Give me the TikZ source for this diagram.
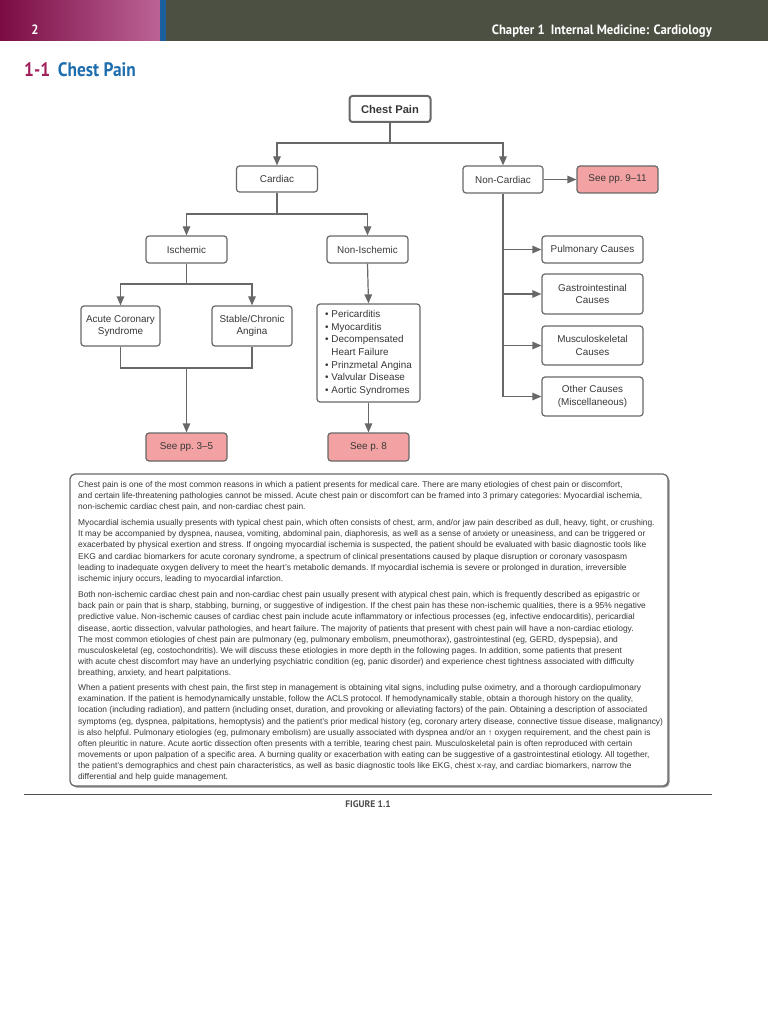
\documentclass[tikz,border=0pt]{standalone}
\usepackage{fontspec}
\usetikzlibrary{arrows.meta}
\newfontfamily\nodefont{Liberation Sans}
\newfontfamily\headfont[FakeStretch=0.94]{PT Sans}
\newfontfamily\titlefont[FakeStretch=0.89]{PT Sans}
\newfontfamily\capfont{PT Sans}
\definecolor{linegray}{HTML}{686868}
\definecolor{txtgray}{HTML}{383838}
\definecolor{pinkfill}{HTML}{F2A2A2}
\definecolor{magL}{HTML}{7A0C43}
\definecolor{magR}{HTML}{BC6396}
\definecolor{stripe}{HTML}{1C5F9C}
\definecolor{barcol}{HTML}{4C5042}
\definecolor{titlemag}{HTML}{A01E5A}
\definecolor{titleblue}{HTML}{1E6DAE}
\tikzset{
  box/.style={draw=linegray, line width=1.2pt, rounded corners=3pt, fill=white,
    inner sep=0pt, align=center, text=txtgray,
    font=\nodefont\fontsize{9.9}{12.5}\selectfont\frenchspacing},
  pinkbox/.style={box, fill=pinkfill},
  conn/.style={draw=linegray, line width=1.2pt},
  arr/.style={conn, -{Triangle[length=9pt,width=7.5pt]}},
  para/.style={anchor=north west, inner sep=0pt, align=left, text=txtgray,
    font=\nodefont\fontsize{8.4}{11.13}\selectfont\frenchspacing}
}
\begin{document}
\begin{tikzpicture}[x=1pt,y=-1pt]
\useasboundingbox (0,0) rectangle (768,1024);
% header bar
\fill[left color=magL, right color=magR] (0,0) rectangle (160,41);
\fill[stripe] (160,0) rectangle (166,41);
\fill[barcol] (166,0) rectangle (768,41);
\node[anchor=base, inner sep=0pt, text=white, font=\headfont\bfseries\fontsize{13.5}{15}\selectfont] (pgnum) at (35,35) {2};
\node[anchor=base east, inner sep=0pt, text=white, font=\headfont\bfseries\fontsize{13.5}{15}\selectfont] (chap) at (712,35) {Chapter 1\hspace{0.45em}Internal Medicine: Cardiology};
% title
\node[anchor=base west, inner sep=0pt, font=\titlefont\bfseries\fontsize{19.5}{22}\selectfont] (title) at (24,77) {\textcolor{titlemag}{1-1}\hspace{0.4em}\textcolor{titleblue}{Chest Pain}};

% flowchart nodes
\node[box, line width=2pt, minimum width=81pt, minimum height=26pt, font=\nodefont\bfseries\fontsize{11.2}{13}\selectfont] (chest) at (390,109) {Chest Pain};
\node[box, minimum width=81pt, minimum height=26pt] (cardiac) at (277,179) {Cardiac};
\node[box, minimum width=80pt, minimum height=27pt] (noncard) at (503,179.5) {Non-Cardiac};
\node[pinkbox, minimum width=81pt, minimum height=27pt] (see911) at (617.5,179.5) {See pp. 9–11};
\node[box, minimum width=81pt, minimum height=27pt] (isch) at (186.5,249.5) {Ischemic};
\node[box, minimum width=81pt, minimum height=27pt] (nonisch) at (367.5,249.5) {Non-Ischemic};
\node[box, minimum width=79pt, minimum height=40pt] (acs) at (120.5,326) {Acute Coronary\\Syndrome};
\node[box, minimum width=80pt, minimum height=40pt] (stable) at (252,326) {Stable/Chronic\\Angina};
\node[box, align=left, minimum width=103pt, minimum height=98pt, font=\nodefont\fontsize{9.9}{12.6}\selectfont] (list) at (368.5,353)
  {• Pericarditis\\• Myocarditis\\• Decompensated\\\phantom{• }Heart Failure\\• Prinzmetal Angina\\• Valvular Disease\\• Aortic Syndromes};
\node[pinkbox, minimum width=81pt, minimum height=28pt] (see35) at (186.5,447) {See pp. 3–5};
\node[pinkbox, minimum width=81pt, minimum height=28pt] (see8) at (368.5,447) {See p. 8};
\node[box, minimum width=101pt, minimum height=27pt] (pulm) at (592.5,249.5) {Pulmonary Causes};
\node[box, minimum width=101pt, minimum height=40pt] (gi) at (592.5,294) {Gastrointestinal\\Causes};
\node[box, minimum width=101pt, minimum height=39pt] (msk) at (592.5,345.5) {Musculoskeletal\\Causes};
\node[box, minimum width=101pt, minimum height=39pt] (other) at (592.5,396.5) {Other Causes\\(Miscellaneous)};

% junctions
\coordinate (j1) at (390,143);
\coordinate (j2) at (277,214);
\coordinate (j3) at (186.5,284);
\coordinate (j4) at (186.5,368);

% connectors
\draw[conn] (chest.south) -- (j1);
\draw[arr] (j1) -| (cardiac.north);
\draw[arr] (j1) -| (noncard.north);
\draw[conn] (cardiac.south) -- (j2);
\draw[arr] (j2) -| (isch.north);
\draw[arr] (j2) -| (nonisch.north);
\draw[conn] (isch.south) -- (j3);
\draw[arr] (j3) -| (acs.north);
\draw[arr] (j3) -| (stable.north);
\draw[conn] (acs.south) |- (j4) -| (stable.south);
\draw[arr] (j4) -- (see35.north);
\draw[arr] (nonisch.south) -- (list.north);
\draw[arr] (list.south) -- (see8.north);
\draw[arr] (noncard.east) -- (see911.west);
\draw[conn] (noncard.south) -- (noncard.south |- other.west);
\draw[arr] (noncard.south |- pulm.west) -- (pulm.west);
\draw[arr] (noncard.south |- gi.west) -- (gi.west);
\draw[arr] (noncard.south |- msk.west) -- (msk.west);
\draw[arr] (noncard.south |- other.west) -- (other.west);

% text box
\fill[black!45, rounded corners=5pt] (71.5,475.5) rectangle (669.5,787.5);
\draw[draw=linegray, fill=white, line width=1.2pt, rounded corners=5pt] (70,474) rectangle (668,786);

\node[para] (p1) at (78,479.7) {\strut Chest pain is one of the most common reasons in which a patient presents for medical care. There are many etiologies of chest pain or discomfort,\\
and certain life-threatening pathologies cannot be missed. Acute chest pain or discomfort can be framed into 3 primary categories: Myocardial ischemia,\\
non-ischemic cardiac chest pain, and non-cardiac chest pain.};

\node[para] (p2) at (78,517.7) {\strut Myocardial ischemia usually presents with typical chest pain, which often consists of chest, arm, and/or jaw pain described as dull, heavy, tight, or crushing.\\
It may be accompanied by dyspnea, nausea, vomiting, abdominal pain, diaphoresis, as well as a sense of anxiety or uneasiness, and can be triggered or\\
exacerbated by physical exertion and stress. If ongoing myocardial ischemia is suspected, the patient should be evaluated with basic diagnostic tools like\\
EKG and cardiac biomarkers for acute coronary syndrome, a spectrum of clinical presentations caused by plaque disruption or coronary vasospasm\\
leading to inadequate oxygen delivery to meet the heart’s metabolic demands. If myocardial ischemia is severe or prolonged in duration, irreversible\\
ischemic injury occurs, leading to myocardial infarction.};

\node[para] (p3) at (78,589.7) {\strut Both non-ischemic cardiac chest pain and non-cardiac chest pain usually present with atypical chest pain, which is frequently described as epigastric or\\
back pain or pain that is sharp, stabbing, burning, or suggestive of indigestion. If the chest pain has these non-ischemic qualities, there is a 95\% negative\\
predictive value. Non-ischemic causes of cardiac chest pain include acute inflammatory or infectious processes (eg, infective endocarditis), pericardial\\
disease, aortic dissection, valvular pathologies, and heart failure. The majority of patients that present with chest pain will have a non-cardiac etiology.\\
The most common etiologies of chest pain are pulmonary (eg, pulmonary embolism, pneumothorax), gastrointestinal (eg, GERD, dyspepsia), and\\
musculoskeletal (eg, costochondritis). We will discuss these etiologies in more depth in the following pages. In addition, some patients that present\\
with acute chest discomfort may have an underlying psychiatric condition (eg, panic disorder) and experience chest tightness associated with difficulty\\
breathing, anxiety, and heart palpitations.};

\node[para] (p4) at (78,682.7) {\strut When a patient presents with chest pain, the first step in management is obtaining vital signs, including pulse oximetry, and a thorough cardiopulmonary\\
examination. If the patient is hemodynamically unstable, follow the ACLS protocol. If hemodynamically stable, obtain a thorough history on the quality,\\
location (including radiation), and pattern (including onset, duration, and provoking or alleviating factors) of the pain. Obtaining a description of associated\\
symptoms (eg, dyspnea, palpitations, hemoptysis) and the patient’s prior medical history (eg, coronary artery disease, connective tissue disease, malignancy)\\
is also helpful. Pulmonary etiologies (eg, pulmonary embolism) are usually associated with dyspnea and/or an ↑ oxygen requirement, and the chest pain is\\
often pleuritic in nature. Acute aortic dissection often presents with a terrible, tearing chest pain. Musculoskeletal pain is often reproduced with certain\\
movements or upon palpation of a specific area. A burning quality or exacerbation with eating can be suggestive of a gastrointestinal etiology. All together,\\
the patient’s demographics and chest pain characteristics, as well as basic diagnostic tools like EKG, chest x-ray, and cardiac biomarkers, narrow the\\
differential and help guide management.};

% rule and caption
\draw[draw=black!70, line width=1pt] (24,794) -- (712,794);
\node[anchor=base, inner sep=0pt, text=black!70, font=\capfont\bfseries\fontsize{9.5}{11}\selectfont] (fig) at (368,807) {FIGURE 1.1};
\end{tikzpicture}
\end{document}
